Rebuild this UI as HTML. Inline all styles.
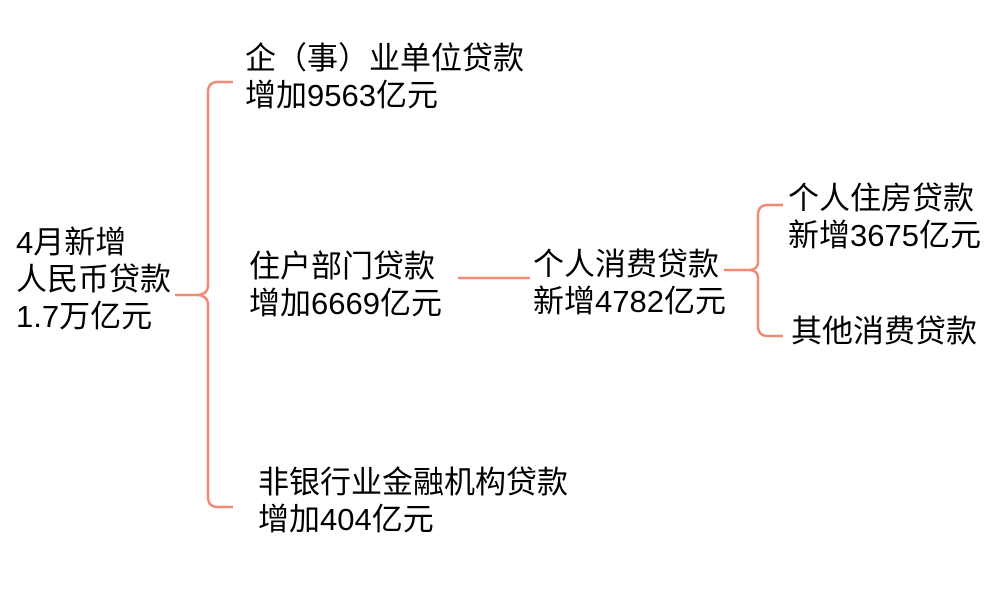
<!DOCTYPE html>
<html><head><meta charset="utf-8"><style>
body{margin:0;width:994px;height:592px;background:#fff;position:relative;overflow:hidden;font-family:"Liberation Sans","Noto Sans CJK SC",sans-serif;color:#000}
.t{position:absolute;font-size:31px;line-height:37px;white-space:nowrap}
</style></head><body>
<svg width="994" height="592" style="position:absolute;left:0;top:0" fill="none" stroke="#F08A74" stroke-width="2.5">
<path d="M233,82 H218 Q208,82 208,92 V285 Q208,295 196,295 H175 M196,295 Q208,295 208,305 V497 Q208,507 218,507 H233"/>
<path d="M458,278 H530"/>
<path d="M783,205 H768 Q758,205 758,215 V262 Q758,270 748,270 H724 M748,270 Q758,270 758,278 V326 Q758,336 768,336 H783"/>
</svg>
<div class="t" style="left:16px;top:224px">4月新增<br>人民币贷款<br>1.7万亿元</div>
<div class="t" style="left:245px;top:40px">企（事）业单位贷款<br>增加9563亿元</div>
<div class="t" style="left:249px;top:248px">住户部门贷款<br>增加6669亿元</div>
<div class="t" style="left:258px;top:464px">非银行业金融机构贷款<br>增加404亿元</div>
<div class="t" style="left:533px;top:246px">个人消费贷款<br>新增4782亿元</div>
<div class="t" style="left:788px;top:180px">个人住房贷款<br>新增3675亿元</div>
<div class="t" style="left:791px;top:313px">其他消费贷款</div>
</body></html>
